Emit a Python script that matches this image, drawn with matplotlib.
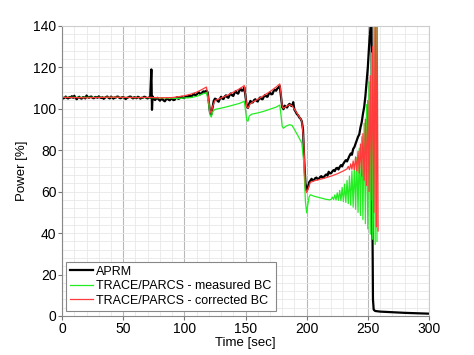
import matplotlib
matplotlib.use('Agg')
import matplotlib.pyplot as plt
from matplotlib.ticker import MultipleLocator

plt.rcParams['font.family'] = ['Liberation Sans', 'DejaVu Sans']
plt.rcParams['font.size'] = 10

# APRM measurement (black, noisy), sampled every second
t_aprm = (list(range(0, 73)) + [73, 73.5, 74] + list(range(75, 120)) +
          list(range(120, 253)) + [253, 253.6, 254.2, 254.8, 256, 260, 270, 280, 290, 300])
p_aprm = [105.6, 105.0, 105.3, 105.9, 105.2, 105.0, 105.7, 105.4, 106.1, 105.3,
          106.3, 105.2, 104.6, 105.4, 105.8, 105.1, 104.9, 105.6, 105.5, 105.0,
          106.4, 105.7, 105.3, 105.8, 105.9, 105.2, 105.1, 105.7, 105.6, 105.3,
          106.0, 105.5, 105.2, 105.6, 104.8, 105.3, 105.7, 105.9, 105.3, 105.0,
          105.9, 105.4, 104.9, 105.5, 105.4, 105.9, 105.8, 105.2, 105.1, 105.6,
          105.6, 105.3, 104.7, 105.2, 105.5, 105.8, 105.9, 105.4, 105.0, 105.6,
          105.4, 105.1, 105.8, 105.5, 104.9, 105.3, 105.3, 105.8, 105.7, 105.2,
          105.0, 105.5, 105.4,
          119.0, 99.5, 106.0,
          104.8, 104.2, 104.9, 105.3, 104.5,
          103.9, 104.6, 104.8, 104.0, 103.6, 104.5, 105.0, 104.4, 104.1, 104.7,
          104.9, 104.2, 104.3, 105.1, 105.6, 104.8, 105.0, 105.5, 105.8, 105.2,
          105.3, 105.9, 106.0, 105.6, 106.6, 106.2, 105.9, 106.8, 107.2, 106.5,
          106.8, 107.5, 107.9, 107.0, 107.3, 108.2, 108.4, 107.9, 108.8, 108.0,
          103.0, 98.0, 97.2, 100.5, 103.8, 104.9, 104.6, 103.9, 103.4, 104.8,
          105.8, 104.9, 104.7, 105.9, 106.5, 105.6, 105.3, 106.6, 107.4, 106.5,
          106.2, 107.6, 108.5, 107.6, 107.3, 108.8, 109.6, 108.7, 108.9, 110.4,
          106.0, 101.2, 100.4, 102.5, 103.8, 103.0, 103.1, 104.2, 104.6, 103.8,
          103.5, 104.8, 105.5, 104.7, 104.6, 105.9, 106.7, 105.9, 105.8, 107.2,
          107.9, 107.0, 107.1, 108.6, 109.2, 108.7, 109.8, 110.2, 111.0, 106.0,
          100.8, 99.8, 101.5, 100.9, 100.6, 101.8, 102.4, 101.6, 101.3, 103.2,
          99.5, 98.6, 97.4, 96.9, 95.8, 95.2, 94.0, 90.0, 75.0, 64.0,
          60.5, 61.8, 64.5, 65.3, 66.2, 65.4, 65.6, 66.5, 66.8, 66.0,
          66.2, 67.1, 67.5, 66.6, 66.9, 67.8, 68.3, 67.7, 69.6, 68.8,
          68.9, 69.8, 70.4, 69.9, 71.2, 71.5, 70.7, 71.9, 72.8, 72.2,
          73.5, 74.4, 75.2, 74.6, 76.0, 77.3, 78.4, 77.8, 80.6, 81.5,
          83.2, 84.9, 86.5, 87.6, 91.0, 93.5, 97.5, 100.8, 106.0, 113.0,
          120.0, 130.0, 138.0,
          145.0, 60.0, 8.0, 3.0, 2.4, 2.1, 1.8, 1.5, 1.3, 1.1]

# TRACE/PARCS - measured BC (green)
t_meas = [0, 40, 72, 85, 95, 100, 105, 110, 115, 118, 119.5, 121, 122, 123, 125,
          130, 135, 140, 145, 149, 150, 151, 152, 153, 155, 160, 165, 170, 175,
          178, 179, 180, 181, 183, 186, 188, 190, 193, 196, 197.5, 199, 200, 201,
          202, 203, 206, 210, 215, 219, 220,
          221, 222, 223, 224, 225, 226, 227, 228, 229, 230, 231, 232, 233, 234,
          235, 236, 237, 238, 239, 240, 241, 242, 243, 244, 245, 246, 247, 248,
          249, 250, 251, 252, 253, 254, 255, 256, 256.8, 257.5]
p_meas = [105.5, 105.5, 105.4, 105.2, 105.0, 105.2, 105.4, 106.0, 107.2, 107.8,
          104.0, 97.0, 96.0, 98.5, 99.7,
          100.3, 101.0, 101.8, 102.6, 103.6, 99.0, 94.5, 94.0, 96.5, 97.4, 98.0,
          98.8, 99.8, 100.8,
          101.8, 97.0, 91.5, 90.6, 91.6, 92.3, 92.0, 90.0, 86.8, 83.5, 75.0,
          55.0, 49.8, 54.0,
          57.5, 58.5, 57.8, 57.2, 56.4, 56.0, 56.3,
          57.4, 56.2, 58.4, 56.0, 59.4, 55.8, 60.6, 55.6, 62.0, 55.2, 63.6, 54.8,
          65.4, 54.2,
          67.5, 53.5, 70.0, 52.5, 73.0, 51.5, 76.5, 50.0, 81.0, 48.5, 86.5, 46.5,
          93.0, 44.5,
          102.0, 42.0, 113.0, 39.5, 127.0, 37.0, 145.0, 34.5, 150.0, 36.0]

# TRACE/PARCS - corrected BC (red)
t_corr = [0, 20, 40, 60, 72, 80, 90, 95, 100, 105, 110, 115, 118, 119.5, 121, 122,
          123, 125, 130, 135, 140, 145, 149, 150, 151, 152, 154, 156, 160, 165,
          170, 175, 178, 179, 180, 181, 183, 186, 188, 190, 193, 196, 197.5, 199,
          200, 201, 203, 206, 210, 215, 220, 225, 230,
          233, 234, 235, 236, 237, 238, 239, 240, 241, 242, 243, 244, 245, 246,
          247, 248, 249, 250, 251, 252, 253, 254, 255, 256, 257, 257.6, 258.4]
p_corr = [105.5, 105.3, 105.6, 105.4, 105.5, 105.3, 105.4, 105.8, 106.3, 107.0,
          108.0, 109.5, 110.5, 106.0, 99.0, 97.8,
          101.0, 104.0, 105.2, 106.5, 108.0, 109.6, 111.2, 106.0, 101.0, 100.3,
          102.5, 103.3, 104.6, 106.4,
          108.3, 110.5, 112.0, 107.0, 101.0, 100.2, 101.0, 102.0, 101.5, 99.8,
          97.0, 94.2, 85.0, 62.0,
          59.5, 61.0, 64.5, 65.2, 65.8, 66.6, 67.5, 68.6, 70.0,
          71.0, 72.2, 70.6, 73.4, 70.8, 74.8, 70.6, 76.8, 70.0, 79.5, 69.0, 83.0,
          67.5, 88.0,
          65.5, 95.0, 63.0, 104.0, 60.0, 116.0, 56.0, 130.0, 50.0, 150.0, 43.0,
          150.0, 41.0]

fig = plt.figure(figsize=(4.74, 3.55), dpi=100)
ax = fig.add_axes([0.131, 0.110, 0.774, 0.817])

ax.plot(t_aprm, p_aprm, color='black', lw=1.6, label='APRM')
ax.plot(t_meas, p_meas, color='#22ee22', lw=0.9, label='TRACE/PARCS - measured BC')
ax.plot(t_corr, p_corr, color='#ff3b3b', lw=0.9, label='TRACE/PARCS - corrected BC')

ax.set_xlim(0, 300)
ax.set_ylim(0, 140)
ax.xaxis.set_major_locator(MultipleLocator(50))
ax.xaxis.set_minor_locator(MultipleLocator(10))
ax.yaxis.set_major_locator(MultipleLocator(20))
ax.yaxis.set_minor_locator(MultipleLocator(4))
ax.grid(which='minor', color='#e8e8e8', lw=0.6)
ax.grid(which='major', axis='y', color='#e8e8e8', lw=0.6)
ax.grid(which='major', axis='x', color='#b8b8b8', lw=0.8)
ax.set_axisbelow(True)
ax.tick_params(which='minor', length=0)
ax.tick_params(which='major', length=3, direction='out', color='#777777', pad=1)
for side in ['left', 'bottom']:
    ax.spines[side].set_color('#888888')
for side in ['top', 'right']:
    ax.spines[side].set_color('#cccccc')

ax.set_xlabel('Time [sec]', fontsize=9.5, labelpad=1)
ax.set_ylabel('Power [%]', fontsize=9.5, labelpad=4)

leg = ax.legend(loc='lower left', bbox_to_anchor=(0.005, 0.01), fancybox=False,
                framealpha=1, edgecolor='#888888', handlelength=1.8,
                handletextpad=0.3, labelspacing=0.2, borderpad=0.3,
                borderaxespad=0.2, fontsize=9)
leg.get_frame().set_linewidth(0.8)

fig.savefig('out.png', dpi=100)
